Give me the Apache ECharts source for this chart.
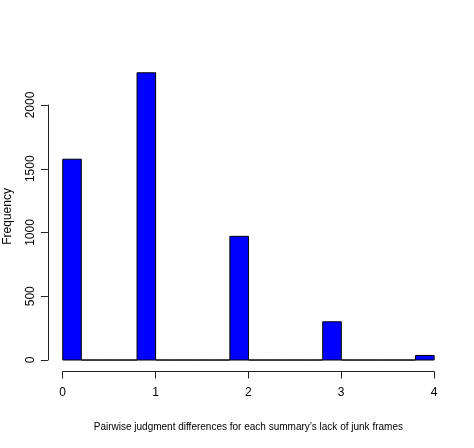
<!DOCTYPE html>
<html>
<head>
<meta charset="utf-8">
<script src="https://cdn.jsdelivr.net/npm/echarts@6/dist/echarts.min.js"></script>
<style>
  html, body { margin: 0; padding: 0; background: #fff; }
  #chart { width: 474px; height: 448px; }
</style>
</head>
<body>
<div id="chart"></div>
<script>
// histogram breaks (bin width 0.2) and counts
var breaks = [0, 0.2, 0.4, 0.6, 0.8, 1.0, 1.2, 1.4, 1.6, 1.8, 2.0,
              2.2, 2.4, 2.6, 2.8, 3.0, 3.2, 3.4, 3.6, 3.8, 4.0];
var counts = [1575, 0, 0, 0, 2253, 0, 0, 0, 0, 970,
              0, 0, 0, 0, 300, 0, 0, 0, 0, 36];
var xTicks = [0, 1, 2, 3, 4];
var yTicks = [0, 500, 1000, 1500, 2000];

var font = 'Liberation Sans, Arial, Helvetica, sans-serif';
var ink = '#222';

var bins = counts.map(function (c, i) {
    return [breaks[i], breaks[i + 1], c];
});

var chart = echarts.init(document.getElementById('chart'));
var option = {
    animation: false,
    backgroundColor: '#fff',
    textStyle: { fontFamily: font },
    grid: [
        // data region (R usr coords: x -0.16..4.16, y -90..2343)
        { left: 47.9, right: 25, top: 61.3, bottom: 76.5, outerBoundsMode: 'none', containLabel: false },
        // x axis, spans 0..4
        { left: 62.7, right: 40, top: 61.3, bottom: 76.5, outerBoundsMode: 'none', containLabel: false },
        // y axis, spans 0..2000
        { left: 47.9, right: 25, top: 105, bottom: 88, outerBoundsMode: 'none', containLabel: false }
    ],
    xAxis: [
        { gridIndex: 0, type: 'value', min: -0.16, max: 4.16, show: false },
        {
            gridIndex: 1, type: 'value', min: 0, max: 4, interval: 1,
            splitLine: { show: false },
            axisLine: { show: true, lineStyle: { color: ink, width: 1 } },
            axisTick: { show: true, length: 7, lineStyle: { color: ink } },
            axisLabel: {
                margin: 15, color: '#000', fontSize: 12, fontFamily: font,
                formatter: function (v) { return xTicks.indexOf(v) >= 0 ? String(v) : ''; }
            },
            name: 'Pairwise judgment differences for each summary\u2019s lack of junk frames',
            nameLocation: 'middle', nameGap: 51,
            nameTextStyle: { color: '#000', fontSize: 10, fontFamily: font }
        },
        { gridIndex: 2, type: 'value', min: 0, max: 1, show: false }
    ],
    yAxis: [
        {
            gridIndex: 0, type: 'value', min: -90, max: 2343,
            axisLine: { show: false }, axisTick: { show: false },
            axisLabel: { show: false }, splitLine: { show: false },
            name: 'Frequency', nameLocation: 'middle', nameGap: 34,
            nameTextStyle: { color: '#000', fontSize: 12, fontFamily: font }
        },
        { gridIndex: 1, type: 'value', min: 0, max: 1, show: false },
        {
            gridIndex: 2, type: 'value', min: 0, max: 2000, interval: 500,
            splitLine: { show: false },
            axisLine: { show: true, lineStyle: { color: ink, width: 1 } },
            axisTick: { show: true, length: 7, lineStyle: { color: ink } },
            axisLabel: {
                rotate: 90, margin: 11, color: '#000', fontSize: 12, fontFamily: font,
                formatter: function (v) { return yTicks.indexOf(v) >= 0 ? String(v) : ''; }
            }
        }
    ],
    series: [{
        type: 'custom',
        xAxisIndex: 0,
        yAxisIndex: 0,
        data: bins,
        renderItem: function (params, api) {
            var p0 = api.coord([api.value(0), api.value(2)]);
            var p1 = api.coord([api.value(1), 0]);
            return {
                type: 'rect',
                shape: { x: p0[0], y: p0[1], width: p1[0] - p0[0], height: p1[1] - p0[1] },
                style: { fill: '#0000ff', stroke: '#000', lineWidth: 1 }
            };
        }
    }]
};
chart.setOption(option);
</script>
</body>
</html>
